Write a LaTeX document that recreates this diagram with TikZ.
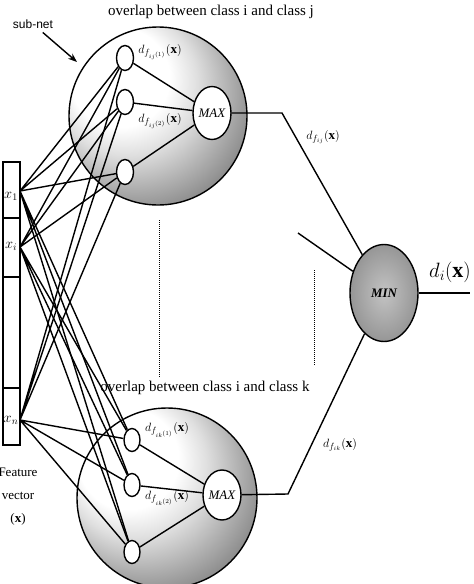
\documentclass[tikz,border=0pt]{standalone}
\usepackage{fontspec}
\setmainfont{Liberation Serif}
\newfontfamily\subnetfont{Liberation Sans}
\usepackage{tikz}
\usetikzlibrary{shapes.geometric,arrows.meta,positioning}
\definecolor{mingray}{RGB}{150,150,150}
\definecolor{minlight}{RGB}{195,195,195}
\pgfdeclareradialshading{subnetshade}{\pgfpoint{-15bp}{15bp}}{color(0bp)=(white); color(14bp)=(white); color(20bp)=(gray!25); color(27bp)=(gray!62); color(32bp)=(gray!88); color(50bp)=(gray!95)}

\begin{document}
\begin{tikzpicture}[x=1pt, y=-1pt, line width=1.4pt,
    unit/.style={draw, ellipse, fill=white, inner sep=0pt, minimum width=17pt, minimum height=25pt},
    maxnode/.style={draw, ellipse, fill=white, inner sep=0pt, minimum width=38pt, minimum height=53pt, font=\fontsize{13}{13}\selectfont\itshape},
    dlabel/.style={font=\fontsize{13}{13}\selectfont, inner sep=0pt},
    title/.style={font=\fontsize{15}{15}\selectfont, inner sep=0pt}]
    \useasboundingbox (0,0) rectangle (474,584);

    % the two sub-nets
    \node[draw, circle, minimum size=178pt, shading=subnetshade] (netij) at (158,116) {};
    \node[draw, circle, minimum size=180pt, shading=subnetshade] (netik) at (167,498) {};
    \node[title] (titleij) at (211,12) {overlap between class i and class j};
    \node[title] (titleik) at (205,388) {overlap between class i and class k};

    % feature vector
    \draw (3,162) rectangle (20,445);
    \draw (3,218) -- (20,218);
    \draw (3,277) -- (20,277);
    \draw (3,388) -- (20,388);
    \node[font=\fontsize{14}{14}\selectfont] (cx1) at (11,196) {$x_1$};
    \node[font=\fontsize{14}{14}\selectfont] (cxi) at (11,246) {$x_i$};
    \node[font=\fontsize{14}{14}\selectfont] (cxn) at (11,420) {$x_n$};
    \coordinate (in1) at (20,191);
    \coordinate (ini) at (20,247);
    \coordinate (inn) at (20,420);
    \node[align=center, font=\fontsize{13}{23}\selectfont] (feat) at (18,497) {Feature\\vector\\(\textbf{x})};

    % hidden units and MAX nodes
    \node[unit] (h1) at (125,58) {};
    \node[unit] (h2) at (125,102) {};
    \node[unit] (h3) at (125,172) {};
    \node[maxnode] (mx1) at (212,113) {MAX};
    \node[unit, minimum width=16pt, minimum height=23pt] (g1) at (132,440) {};
    \node[unit, minimum width=16pt, minimum height=23pt] (g2) at (132,485) {};
    \node[unit, minimum width=16pt, minimum height=23pt] (g3) at (132,552) {};
    \node[maxnode, minimum height=50pt] (mx2) at (222,495) {MAX};

    % input connections
    \draw (in1) -- (h1) (in1) -- (h2) (in1) -- (h3) (in1) -- (g1) (in1) -- (g2) (in1) -- (g3);
    \draw (ini) -- (h1) (ini) -- (h2) (ini) -- (h3) (ini) -- (g1) (ini) -- (g2) (ini) -- (g3);
    \draw (inn) -- (h1) (inn) -- (h2) (inn) -- (h3) (inn) -- (g1) (inn) -- (g2) (inn) -- (g3);

    \draw (h1) -- (mx1);
    \draw (h2) -- (mx1);
    \draw (h3) -- (mx1);
    \draw (g1) -- (mx2);
    \draw (g2) -- (mx2);
    \draw (g3) -- (mx2);
    \node[dlabel] (l1) at (160,52) {$d_{f_{ij^{(1)}}}(\mathbf{x})$};
    \node[dlabel] (l2) at (160,121) {$d_{f_{ij^{(2)}}}(\mathbf{x})$};
    \node[dlabel] (l3) at (167,430) {$d_{f_{ik^{(1)}}}(\mathbf{x})$};
    \node[dlabel] (l4) at (167,498) {$d_{f_{ik^{(2)}}}(\mathbf{x})$};

    % MIN node
    \node[draw, ellipse, minimum width=68pt, minimum height=97pt, inner color=minlight, outer color=mingray,
          font=\fontsize{13}{13}\selectfont\itshape\bfseries] (mn) at (384,293) {MIN};
    \coordinate (c1) at (282,113);
    \coordinate (c2) at (288,494);
    \coordinate (stub) at (298,233);
    \coordinate (out) at (470,293);
    \draw (mx1) -- (c1) -- (mn);
    \draw (mx2) -- (c2) -- (mn);
    \draw (stub) -- (mn);
    \draw (mn) -- (out);
    \node[dlabel] (lij) at (323,137) {$d_{f_{ij}}(\mathbf{x})$};
    \node[dlabel] (lik) at (340,445) {$d_{f_{ik}}(\mathbf{x})$};
    \node[font=\fontsize{22}{22}\selectfont, inner sep=0pt] (di) at (450,272) {$d_i(\mathbf{x})$};

    % other sub-nets
    \coordinate (dot1a) at (159,220);
    \coordinate (dot1b) at (159,377);
    \coordinate (dot2a) at (314,270);
    \coordinate (dot2b) at (314,365);
    \draw[densely dotted, line width=1pt] (dot1a) -- (dot1b);
    \draw[densely dotted, line width=1pt] (dot2a) -- (dot2b);

    \node[font=\subnetfont\fontsize{12}{12}\selectfont] (subnet) at (33,24) {sub-net};
    \coordinate (subtip) at (77,62);
    \draw[-{Stealth[length=9pt]}] (subnet) -- (subtip);
\end{tikzpicture}
\end{document}
